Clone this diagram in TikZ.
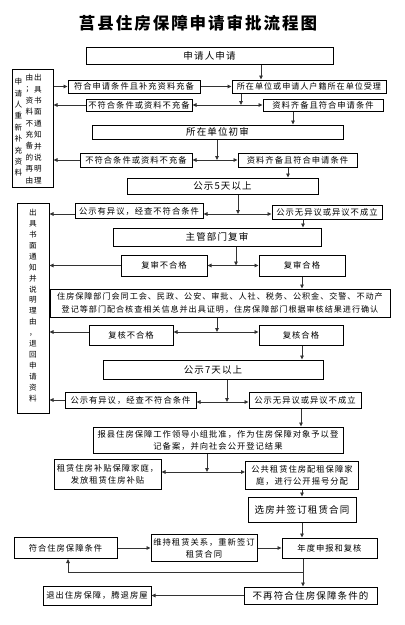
\documentclass[tikz,border=0pt]{standalone}
\usepackage{fontspec}
\newfontfamily\cjk[LetterSpace=12]{Noto Sans CJK SC}
\usetikzlibrary{arrows.meta}
\tikzset{
  box/.style={draw=black,line width=1pt,inner sep=0pt,align=center,
              font=\cjk\fontsize{8.3}{12}\selectfont},
  big/.style={font=\cjk\fontsize{9.5}{12}\selectfont},
  vcol/.style={inner sep=0pt,align=center,font=\cjk\fontsize{7.6}{11.4}\selectfont},
  >={Triangle[length=4pt,width=3.6pt]}
}
\newcommand{\flowbox}[6][]{%
  \node[box,minimum width=#4,minimum height=#5,#1] (#2) at #3 {#6};}

\begin{document}
\begin{tikzpicture}[x=1pt,y=-1pt]
  \useasboundingbox (0,0) rectangle (405,625);

  \node[font=\cjk\bfseries\fontsize{16.5}{20}\selectfont] (title) at (198,23.5)
       {莒县住房保障申请审批流程图};

  % application and unit acceptance
  \flowbox[big]{apply}{(209.5,55.5)}{247}{17}{申请人申请}
  \flowbox{meet1}{(134,86.5)}{132}{13}{符合申请条件且补充资料充备}
  \flowbox[font=\cjk\fontsize{8.1}{12}\selectfont]{accept}{(309,86.5)}{154}{13}%
    {所在单位或申请人户籍所在单位受理}
  \flowbox{lack1}{(139,105)}{106}{12}{不符合条件或资料不充备}
  \flowbox{ok1}{(323,105)}{120}{12}{资料齐备且符合申请条件}
  \flowbox[big]{unit}{(217.5,132)}{251}{14}{所在单位初审}
  \flowbox{lack2}{(136,160)}{112}{14}{不符合条件或资料不充备}
  \flowbox{ok2}{(297.5,160)}{119}{14}{资料齐备且符合申请条件}

  \flowbox{left1}{(32.5,128)}{41}{118}{}
  \node[vcol] (left1a) at (38,129) {出\\具\\书\\面\\通\\知\\并\\说\\明\\理};
  \node[vcol] (left1b) at (29.5,129) {由\\；\\资\\料\\不\\充\\备\\的\\再\\由};
  \node[vcol] (left1c) at (18.5,127.5) {申\\请\\人\\重\\新\\补\\充\\资\\料};

  % publicity and reviews
  \flowbox[big]{pub5}{(222.5,186)}{191}{16}{公示5天以上}
  \flowbox{obj1}{(139,211)}{128}{15}{公示有异议，经查不符合条件}
  \flowbox{noobj1}{(327,212)}{110}{14}{公示无异议或异议不成立}
  \flowbox[big]{dept}{(217,237)}{208}{18}{主管部门复审}
  \flowbox{fail1}{(164,265.5)}{86}{21}{复审不合格}
  \flowbox{pass1}{(302,265.5)}{86}{21}{复审合格}
  \flowbox[font=\cjk\fontsize{8.1}{13}\selectfont]{verify}{(220,303)}{340}{28}%
    {住房保障部门会同工会、民政、公安、审批、人社、税务、公积金、交警、不动产\\
     登记等部门配合核查相关信息并出具证明，住房保障部门根据审核结果进行确认}
  \flowbox{fail2}{(131,335)}{84}{20}{复核不合格}
  \flowbox{pass2}{(301,335)}{84}{20}{复核合格}
  \flowbox[big]{pub7}{(213,369.5)}{220}{19}{公示7天以上}
  \flowbox{obj2}{(130.5,400)}{131}{16}{公示有异议，经查不符合条件}
  \flowbox{noobj2}{(305,400)}{112}{16}{公示无异议或异议不成立}

  \flowbox{left2}{(33,308)}{32}{210}{}
  \node[vcol,font=\cjk\fontsize{7.6}{10.9}\selectfont] (left2a) at (33,305.5)
       {出\\具\\书\\面\\通\\知\\并\\说\\明\\理\\由\\，\\退\\回\\申\\请\\资\\料};

  % approval, allocation and yearly check
  \flowbox{approve}{(218,440)}{250}{26}%
    {报县住房保障工作领导小组批准，作为住房保障对象予以登\\记备案，并向社会公开登记结果}
  \flowbox{subsidy}{(107.5,474)}{107}{30}{租赁住房补贴保障家庭，\\发放租赁住房补贴}
  \flowbox{rent}{(302,475)}{113}{28}{公共租赁住房配租保障家\\庭，进行公开摇号分配}
  \flowbox[big]{choose}{(302,509.5)}{108}{25}{选房并签订租赁合同}
  \flowbox{annual}{(329.5,548)}{95}{20}{年度申报和复核}
  \flowbox{keep}{(204,548)}{106}{27}{维持租赁关系，重新签订\\租赁合同}
  \flowbox{still}{(65.5,548)}{103}{21}{符合住房保障条件}
  \flowbox[big]{nolonger}{(310.5,595.5)}{133}{17}{不再符合住房保障条件的}
  \flowbox{exit}{(97,595.5)}{108}{19}{退出住房保障，腾退房屋}

  % junctions on the split lines
  \coordinate (j1) at (241,105);
  \coordinate (j2) at (217,160);
  \coordinate (j3) at (238,214);
  \coordinate (j4) at (236,265.5);
  \coordinate (j5) at (217,332);
  \coordinate (j6) at (227,402);
  \coordinate (j7) at (207,472);
  \coordinate (j8) at (303,572);

  \begin{scope}[->,black!80,line width=0.9pt]
    \draw ([xshift=51.5]apply.south) -- ([xshift=-48]accept.north);
    \draw (left1.east |- meet1) -- (meet1.west);
    \draw (meet1.east) -- (accept.west);
    \draw (accept.south -| j1) -- (j1);
    \draw[<->] (lack1.east) -- (ok1.west);
    \draw (lack1.west) -- (left1.east |- lack1);
    \draw ([xshift=-30]ok1.south) -- ([xshift=75.5]unit.north);
    \draw (unit.south -| j2) -- (j2);
    \draw[<->] (lack2.east) -- (ok2.west);
    \draw (lack2.west) -- (left1.east |- lack2);
    \draw ([xshift=-9.5]ok2.south) -- ([xshift=65.5]pub5.north);

    \draw (pub5.south -| j3) -- (j3);
    \draw[<->] (obj1.east |- j3) -- (noobj1.west |- j3);
    \draw (obj1.west |- j3) -- (left2.east |- j3);
    \draw ([xshift=-24]noobj1.south) -- ([xshift=86]dept.north);
    \draw (dept.south -| j4) -- (j4);
    \draw[<->] (fail1.east) -- (pass1.west);
    \draw (fail1.west) -- (left2.east |- fail1);
    \draw (pass1.south) -- ([xshift=82]verify.north);
    \draw (verify.south -| j5) -- (j5);
    \draw[<->] (fail2.east |- j5) -- (pass2.west |- j5);
    \draw (fail2.west |- j5) -- (left2.east |- j5);
    \draw ([xshift=1]pass2.south) -- ([xshift=89]pub7.north);
    \draw (pub7.south -| j6) -- (j6);
    \draw[<->] (obj2.east |- j6) -- (noobj2.west |- j6);
    \draw (obj2.west) -- (left2.east |- obj2);

    \draw ([xshift=-4]noobj2.south) -- ([xshift=83]approve.north);
    \draw (approve.south -| j7) -- (j7);
    \draw[<->] (subsidy.east |- j7) -- (rent.west |- j7);
    \draw (rent.south) -- (choose.north);
    \draw (choose.south) -- ([xshift=-27.5]annual.north);
    \draw (still.east) -- (keep.west);
    \draw (keep.east) -- (annual.west);
    \draw ([xshift=-26.5]annual.south) -- (j8) -| ([xshift=2.5]still.south);
    \draw (j8) -- (nolonger.north -| j8);
    \draw (nolonger.west) -- (exit.east);
  \end{scope}
\end{tikzpicture}
\end{document}
